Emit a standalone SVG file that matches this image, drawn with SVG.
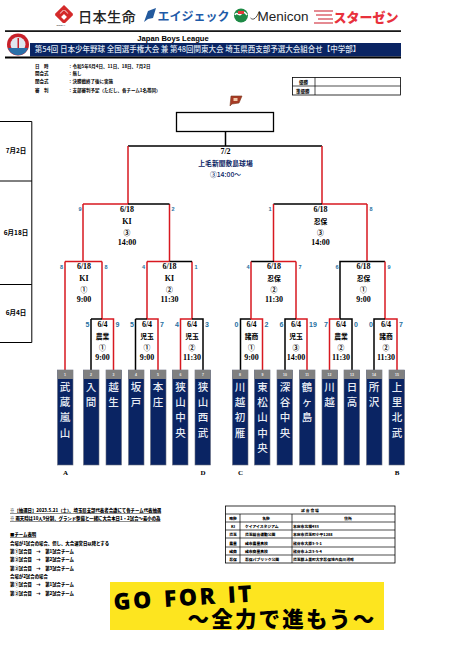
<svg xmlns="http://www.w3.org/2000/svg" width="474" height="670" viewBox="0 0 474 670">
<style>
text{font-family:"Liberation Serif","Noto Sans CJK JP",serif;fill:#000;text-anchor:middle}
.j{font-family:"Noto Sans CJK JP","Liberation Sans",sans-serif}
.m{font-size:8px;font-weight:700}
.m.j{font-size:6.800px}
.l{font-size:7px;font-weight:700}
.s{font-size:5.500px;font-weight:700;fill:#1f6f9f;font-family:"Liberation Sans",sans-serif}
.t{font-size:7px;fill:#1f6f9f;font-family:"Liberation Sans",sans-serif;font-weight:700}
.n{font-family:"Noto Sans CJK JP",sans-serif;font-size:4.500px;font-weight:700;text-anchor:start}
.u{font-family:"Noto Sans CJK JP",sans-serif;font-size:4.400px;font-weight:900;text-anchor:start}
.v{font-family:"Noto Sans CJK JP",sans-serif;font-size:3.800px;font-weight:900;text-anchor:start}
.vc{font-family:"Noto Sans CJK JP",sans-serif;font-size:3.800px;font-weight:900}
.nm{font-family:"Noto Sans CJK JP",sans-serif;font-size:10.500px;font-weight:500;fill:#e8ecf4}
.h{font-family:"Liberation Sans",sans-serif;font-size:3.500px;font-weight:700;fill:#eee}
.r{fill:none;stroke:#d81820;stroke-width:1.500}
.k{fill:none;stroke:#000;stroke-width:1.500}
.box{fill:#0a2463;stroke:#6a6f80;stroke-width:.6}
.hd{fill:#808080}
.g{fill:none;stroke:#000;stroke-width:.7}
</style>
<rect width="474" height="670" fill="#fff"/>
<g id="sponsors">
<path d="M64 7l7 7-2.500 2.500-4.500-4.500-4.500 4.500L57 14zM64 22l-7-7 2.500-2.500M64 22l7-7-2.500-2.500" fill="none" stroke="#d42a2a" stroke-width="3"/>
<text x="61" y="25.500" style="font-size:2.500px;font-family:'Liberation Sans'">NISSAY</text>
<text x="107" y="21.500" class="j" style="font-size:14.200px;font-weight:500;letter-spacing:.3px;fill:#222">日本生命</text>
<path d="M144 22l4-11 8-3-3 10-5 1z" fill="#245a9e"/>
<text x="193.500" y="21" class="j" style="font-size:12px;font-weight:700;fill:#1d5aa8">エイジェック</text>
<circle cx="241" cy="15.500" r="7" fill="#1e8a46"/>
<path d="M235 15c2-4 4 2 6-1s4-2 6 1" fill="none" stroke="#fff" stroke-width="1.500"/>
<path d="M238 11h6v3h-6z" fill="#e23b3b"/>
<path d="M250.500 18c3 3 6 0 9-7" fill="none" stroke="#222" stroke-width=".8"/>
<text x="283" y="20.500" style="font-family:'Liberation Sans';font-size:13.500px;fill:#222">Menicon</text>
<g fill="#e58a92"><rect x="314" y="10" width="19" height="2"/><rect x="316" y="14" width="16" height="2"/><rect x="318" y="18" width="15" height="2"/><rect x="314" y="22" width="19" height="2"/></g>
<text x="366" y="21.500" class="j" style="font-size:13px;font-weight:900;fill:#e8313c">スターゼン</text>
</g>
<g id="title">
<rect x="5" y="30.300" width="396" height="1.600" fill="#000"/>
<text x="173" y="40.500" style="font-family:'Liberation Sans';font-size:7.600px;font-weight:700">Japan Boys League</text>
<rect x="30" y="43" width="371" height="13.500" fill="#0a2463"/>
<rect x="5" y="56.500" width="396" height="2" fill="#000"/>
<circle cx="18" cy="44.500" r="11" fill="#c8202a"/>
<circle cx="18" cy="44.500" r="7.500" fill="#dfe7ef"/>
<path d="M8 48a10.500 10.500 0 0 0 20 0z" fill="#2a6fa8"/>
<rect x="17.500" y="38" width="1.500" height="10" fill="#c8202a"/>
<text x="197.500" y="52" class="j" style="font-size:7.500px;font-weight:500;fill:#dfe6f2">第54回 日本少年野球 全国選手権大会 兼 第48回関東大会 埼玉県西支部予選大会組合せ【中学部】</text>
</g>
<g id="info">
<text class="n" x="35" y="67.500">日　時</text><text class="n" x="68" y="67.500">：令和5年6月4日、11日、18日、7月2日</text>
<text class="n" x="35" y="75">開会式</text><text class="n" x="68" y="75">：無し</text>
<text class="n" x="35" y="82.500">閉会式</text><text class="n" x="68" y="82.500">：決勝戦終了後に実施</text>
<text class="n" x="35" y="91.500">審　判</text><text class="n" x="68" y="91.500">：支部審判予定（ただし、各チーム1名帯同）</text>
</g>
<g id="results">
<rect x="292.500" y="77.500" width="108" height="17.500" fill="none" stroke="#000" stroke-width=".8"/>
<path d="M292.500 86H400.500M315 77.500V95" stroke="#000" stroke-width=".7"/>
<text class="n" x="299" y="83.500">優勝</text>
<text class="n" x="296" y="92.500">準優勝</text>
</g>
<g id="days">
<path d="M0 121.500H31.800V342.500H0M0 181H31.800M0 284.500H31.800" fill="none" stroke="#000" stroke-width="1"/>
<text x="16" y="153" class="j" style="font-size:6.500px;font-weight:700">7月2日</text>
<text x="16" y="235" class="j" style="font-size:6.500px;font-weight:700">6月18日</text>
<text x="16" y="315" class="j" style="font-size:6.500px;font-weight:700">6月4日</text>
</g>
<g id="flag">
<path d="M230 106l1-10h11l-3 7-7 1z" fill="#a83a24" stroke="#7a3a20" stroke-width=".6"/>
<rect x="233.500" y="98" width="4" height="3" fill="#f2c8a8"/>
</g>
<g id="champion"><rect x="176.500" y="112.500" width="97" height="19" fill="#fff" stroke="#000" stroke-width="1.300"/></g>
<g id="connectors">
<path class="k" d="M225.500 131.500V146M128 146H322"/>
<path class="r" d="M128 146V204M322 146V204"/>
<path class="r" d="M83 204H128M83 204V261.500M169.500 204V261.500"/>
<path class="k" d="M128 204H169.500M273.500 204H322"/>
<path class="r" d="M322 204H367M273.500 204V261.500M367 204V261.500"/>
<path class="r" d="M65 261.500H102M65 261.500V370M102 261.500V319"/>
<path class="k" d="M91 319H102M91 319V370"/>
<path class="r" d="M102 319H113.500V370"/>
<path class="r" d="M147 261.500H169.500M147 261.500V319M192 261.500V319"/>
<path class="k" d="M169.500 261.500H192M135.500 319H147M135.500 319V370"/>
<path class="r" d="M147 319H158V370"/>
<path class="r" d="M180.500 370V319H192"/>
<path class="k" d="M192 319H203V370"/>
<path class="k" d="M251 261.500H274M240.500 370V319H251"/>
<path class="r" d="M274 261.500H296M251 261.500V319M296 261.500V319M251 319H262.500V370"/>
<path class="k" d="M285 370V319H296"/>
<path class="r" d="M296 319H307V370"/>
<path class="k" d="M340 319V261.500H385"/>
<path class="r" d="M385 261.500V319"/>
<path class="r" d="M329.500 370V319H340"/>
<path class="k" d="M340 319H352V370"/>
<path class="k" d="M374 370V319H385"/>
<path class="r" d="M385 319H397V370"/>
</g>
<g id="final-label">
<text class="m" x="225.500" y="153.500">7/2</text>
<text class="j" x="225.500" y="165.500" style="font-size:6.800px;font-weight:700;fill:#0a2463">上毛新聞敷島球場</text>
<text class="j" x="225.500" y="177" style="font-size:6.800px;font-weight:500;fill:#0a2463">③14:00～</text>
</g>
<g id="m-sf1"><text class="m" x="127" y="212">6/18</text><text class="m" x="127" y="224">KI</text><text class="m j" x="127" y="235">③</text><text class="m" x="127" y="245">14:00</text><text class="s" x="80" y="211">9</text><text class="s" x="173" y="211">2</text></g>
<g id="m-sf2"><text class="m" x="320.500" y="212">6/18</text><text class="m j" x="320.500" y="224">忍保</text><text class="m j" x="320.500" y="235">③</text><text class="m" x="320.500" y="245">14:00</text><text class="s" x="270" y="211">1</text><text class="s" x="371" y="211">8</text></g>
<g id="m-q1"><text class="m" x="84" y="269">6/18</text><text class="m" x="84" y="281">KI</text><text class="m j" x="84" y="292">①</text><text class="m" x="84" y="302">9:00</text><text class="s" x="61.500" y="269">8</text><text class="s" x="106" y="269">8</text></g>
<g id="m-q2"><text class="m" x="169.500" y="269">6/18</text><text class="m" x="169.500" y="281">KI</text><text class="m j" x="169.500" y="292">②</text><text class="m" x="169.500" y="302">11:30</text><text class="s" x="143.500" y="269">4</text><text class="s" x="196" y="269">1</text></g>
<g id="m-q3"><text class="m" x="274" y="269">6/18</text><text class="m j" x="274" y="281">忍保</text><text class="m j" x="274" y="292">②</text><text class="m" x="274" y="302">11:30</text><text class="s" x="248" y="269">4</text><text class="s" x="300" y="269">7</text></g>
<g id="m-q4"><text class="m" x="363.500" y="269">6/18</text><text class="m j" x="363.500" y="281">忍保</text><text class="m j" x="363.500" y="292">①</text><text class="m" x="363.500" y="302">9:00</text><text class="s" x="337" y="269">6</text><text class="s" x="389" y="269">9</text></g>
<g id="m-r1"><text class="m" x="102.500" y="327">6/4</text><text class="m j" x="102.500" y="339">農業</text><text class="m j" x="102.500" y="350">①</text><text class="m" x="102.500" y="360">9:00</text><text class="t" x="87.500" y="327">5</text><text class="t" x="117.500" y="327">9</text></g>
<g id="m-r2"><text class="m" x="147" y="327">6/4</text><text class="m j" x="147" y="339">児玉</text><text class="m j" x="147" y="350">①</text><text class="m" x="147" y="360">9:00</text><text class="t" x="132" y="327">5</text><text class="t" x="162" y="327">7</text></g>
<g id="m-r3"><text class="m" x="192" y="327">6/4</text><text class="m j" x="192" y="339">児玉</text><text class="m j" x="192" y="350">②</text><text class="m" x="192" y="360">11:30</text><text class="t" x="177" y="327">4</text><text class="t" x="207" y="327">3</text></g>
<g id="m-r4"><text class="m" x="251.500" y="327">6/4</text><text class="m j" x="251.500" y="339">諸商</text><text class="m j" x="251.500" y="350">①</text><text class="m" x="251.500" y="360">9:00</text><text class="t" x="236.500" y="327">0</text><text class="t" x="266.500" y="327">2</text></g>
<g id="m-r5"><text class="m" x="296" y="327">6/4</text><text class="m j" x="296" y="339">児玉</text><text class="m j" x="296" y="350">③</text><text class="m" x="296" y="360">14:00</text><text class="t" x="281.500" y="327">6</text><text class="t" x="313" y="327">19</text></g>
<g id="m-r6"><text class="m" x="341" y="327">6/4</text><text class="m j" x="341" y="339">農業</text><text class="m j" x="341" y="350">②</text><text class="m" x="341" y="360">11:30</text><text class="t" x="326" y="327">7</text><text class="t" x="356" y="327">0</text></g>
<g id="m-r7"><text class="m" x="386" y="327">6/4</text><text class="m j" x="386" y="339">諸商</text><text class="m j" x="386" y="350">②</text><text class="m" x="386" y="360">11:30</text><text class="t" x="371" y="327">0</text><text class="t" x="401" y="327">7</text></g>
<g id="team-1"><rect class="box" x="57.500" y="370" width="15.500" height="95"/><rect class="hd" x="57.500" y="370" width="15.500" height="9"/><text class="h" x="65" y="376">1</text><text class="nm" x="65"><tspan x="65" y="391">武</tspan><tspan x="65" y="406">蔵</tspan><tspan x="65" y="421">嵐</tspan><tspan x="65" y="437">山</tspan></text></g>
<g id="team-2"><rect class="box" x="83.500" y="370" width="15.500" height="95"/><rect class="hd" x="83.500" y="370" width="15.500" height="9"/><text class="h" x="91" y="376">2</text><text class="nm" x="91"><tspan x="91" y="391">入</tspan><tspan x="91" y="406">間</tspan></text></g>
<g id="team-3"><rect class="box" x="106" y="370" width="15.500" height="95"/><rect class="hd" x="106" y="370" width="15.500" height="9"/><text class="h" x="113.500" y="376">3</text><text class="nm" x="113.500"><tspan x="113.500" y="391">越</tspan><tspan x="113.500" y="406">生</tspan></text></g>
<g id="team-4"><rect class="box" x="128.500" y="370" width="15.500" height="95"/><rect class="hd" x="128.500" y="370" width="15.500" height="9"/><text class="h" x="136" y="376">4</text><text class="nm" x="136"><tspan x="136" y="391">坂</tspan><tspan x="136" y="406">戸</tspan></text></g>
<g id="team-5"><rect class="box" x="150.500" y="370" width="15.500" height="95"/><rect class="hd" x="150.500" y="370" width="15.500" height="9"/><text class="h" x="158" y="376">5</text><text class="nm" x="158"><tspan x="158" y="391">本</tspan><tspan x="158" y="406">庄</tspan></text></g>
<g id="team-6"><rect class="box" x="172.500" y="370" width="15.500" height="95"/><rect class="hd" x="172.500" y="370" width="15.500" height="9"/><text class="h" x="180.500" y="376">6</text><text class="nm" x="180.500"><tspan x="180.500" y="391">狭</tspan><tspan x="180.500" y="406">山</tspan><tspan x="180.500" y="421">中</tspan><tspan x="180.500" y="437">央</tspan></text></g>
<g id="team-7"><rect class="box" x="195" y="370" width="15.500" height="95"/><rect class="hd" x="195" y="370" width="15.500" height="9"/><text class="h" x="203" y="376">7</text><text class="nm" x="203"><tspan x="203" y="391">狭</tspan><tspan x="203" y="406">山</tspan><tspan x="203" y="421">西</tspan><tspan x="203" y="437">武</tspan></text></g>
<g id="team-8"><rect class="box" x="232.500" y="370" width="15.500" height="95"/><rect class="hd" x="232.500" y="370" width="15.500" height="9"/><text class="h" x="240" y="376">8</text><text class="nm" x="240"><tspan x="240" y="391">川</tspan><tspan x="240" y="406">越</tspan><tspan x="240" y="421">初</tspan><tspan x="240" y="437">雁</tspan></text></g>
<g id="team-9"><rect class="box" x="254.500" y="370" width="15.500" height="95"/><rect class="hd" x="254.500" y="370" width="15.500" height="9"/><text class="h" x="262.500" y="376">9</text><text class="nm" x="262.500"><tspan x="262.500" y="391">東</tspan><tspan x="262.500" y="406">松</tspan><tspan x="262.500" y="421">山</tspan><tspan x="262.500" y="437">中</tspan><tspan x="262.500" y="452">央</tspan></text></g>
<g id="team-10"><rect class="box" x="277" y="370" width="15.500" height="95"/><rect class="hd" x="277" y="370" width="15.500" height="9"/><text class="h" x="285" y="376">10</text><text class="nm" x="285"><tspan x="285" y="391">深</tspan><tspan x="285" y="406">谷</tspan><tspan x="285" y="421">中</tspan><tspan x="285" y="437">央</tspan></text></g>
<g id="team-11"><rect class="box" x="299.500" y="370" width="15.500" height="95"/><rect class="hd" x="299.500" y="370" width="15.500" height="9"/><text class="h" x="307" y="376">11</text><text class="nm" x="307"><tspan x="307" y="391">鶴</tspan><tspan x="307" y="406">ヶ</tspan><tspan x="307" y="421">島</tspan></text></g>
<g id="team-12"><rect class="box" x="322" y="370" width="15.500" height="95"/><rect class="hd" x="322" y="370" width="15.500" height="9"/><text class="h" x="329.500" y="376">12</text><text class="nm" x="329.500"><tspan x="329.500" y="391">川</tspan><tspan x="329.500" y="406">越</tspan></text></g>
<g id="team-13"><rect class="box" x="344" y="370" width="15.500" height="95"/><rect class="hd" x="344" y="370" width="15.500" height="9"/><text class="h" x="352" y="376">13</text><text class="nm" x="352"><tspan x="352" y="391">日</tspan><tspan x="352" y="406">高</tspan></text></g>
<g id="team-14"><rect class="box" x="366.500" y="370" width="15.500" height="95"/><rect class="hd" x="366.500" y="370" width="15.500" height="9"/><text class="h" x="374" y="376">14</text><text class="nm" x="374"><tspan x="374" y="391">所</tspan><tspan x="374" y="406">沢</tspan></text></g>
<g id="team-15"><rect class="box" x="389" y="370" width="15.500" height="95"/><rect class="hd" x="389" y="370" width="15.500" height="9"/><text class="h" x="397" y="376">15</text><text class="nm" x="397"><tspan x="397" y="391">上</tspan><tspan x="397" y="406">里</tspan><tspan x="397" y="421">北</tspan><tspan x="397" y="437">武</tspan></text></g>
<g id="letters">
<text class="l" x="65.500" y="475">A</text><text class="l" x="203" y="475">D</text><text class="l" x="240.500" y="475">C</text><text class="l" x="397" y="475">B</text>
</g>
<g id="notes">
<text class="u" x="10" y="512" text-decoration="underline">※【抽選日】2023.5.21（土）、埼玉県支部代表者会議にて各チーム代表抽選</text>
<text class="u" x="10" y="520" text-decoration="underline">※ 雨天時は10人9分制、グランド整備と一緒に大会本日1・2試合～最小の為</text>
<text class="u" x="10" y="536" text-decoration="underline">■チーム表明</text>
<text class="u" x="10" y="545">会場が1試合の場合、但し、大会運営日以降とする</text>
<text class="u" x="10" y="553">第①試合目　→　第1試合チーム</text>
<text class="u" x="10" y="561">第②試合目　→　第2試合チーム</text>
<text class="u" x="10" y="570">第③試合目　→　第3試合チーム</text>
<text class="u" x="10" y="578">会場が2試合の場合</text>
<text class="u" x="10" y="586">第①試合目　→　第1試合チーム</text>
<text class="u" x="10" y="595">第②試合目　→　第2試合チーム</text>
</g>
<g id="venues">
<rect x="225.500" y="506" width="169.500" height="57" fill="none" stroke="#000" stroke-width=".8"/>
<path class="g" d="M225.500 514H395M225.500 522H395M225.500 530H395M225.500 538H395M225.500 547H395M225.500 555H395M240 514V563M292 514V563"/>
<text class="vc" x="310" y="512">試 合 会 場</text>
<text class="vc" x="233" y="520">略称</text><text class="vc" x="266" y="520">名称</text><text class="vc" x="348" y="520">住所</text>
<text class="vc" x="233" y="528">KI</text><text class="v" x="245" y="528">ケイアイスタジアム</text><text class="v" x="293" y="528">本庄市北堀433</text>
<text class="vc" x="233" y="536">児玉</text><text class="v" x="245" y="536">児玉総合運動公園</text><text class="v" x="293" y="536">本庄市児玉町小平1288</text>
<text class="vc" x="233" y="544.500">農業</text><text class="v" x="245" y="544.500">諸市農業高校</text><text class="v" x="293" y="544.500">熊谷市大原3-3-1</text>
<text class="vc" x="233" y="553">諸商</text><text class="v" x="245" y="553">諸市商業高校</text><text class="v" x="293" y="553">熊谷市上之3-5-4</text>
<text class="vc" x="233" y="561">忍保</text><text class="v" x="245" y="561">忍保パブリック公園</text><text class="v" x="293" y="561">児玉郡上里町大字忍保地内烏川河畔</text>
</g>
<g id="banner">
<rect x="110" y="582" width="274" height="48" fill="#fde51f"/>
<text x="114" y="610" transform="rotate(-3.500 114 610)" style="font-family:'Open Sans','Liberation Sans',sans-serif;font-size:23px;font-weight:800;letter-spacing:2.400px;word-spacing:2px;text-anchor:start">GO FOR IT</text>
<text x="282" y="627" class="j" style="font-size:21.500px;font-weight:900;letter-spacing:2.200px">～全力で進もう～</text>
</g>
</svg>
